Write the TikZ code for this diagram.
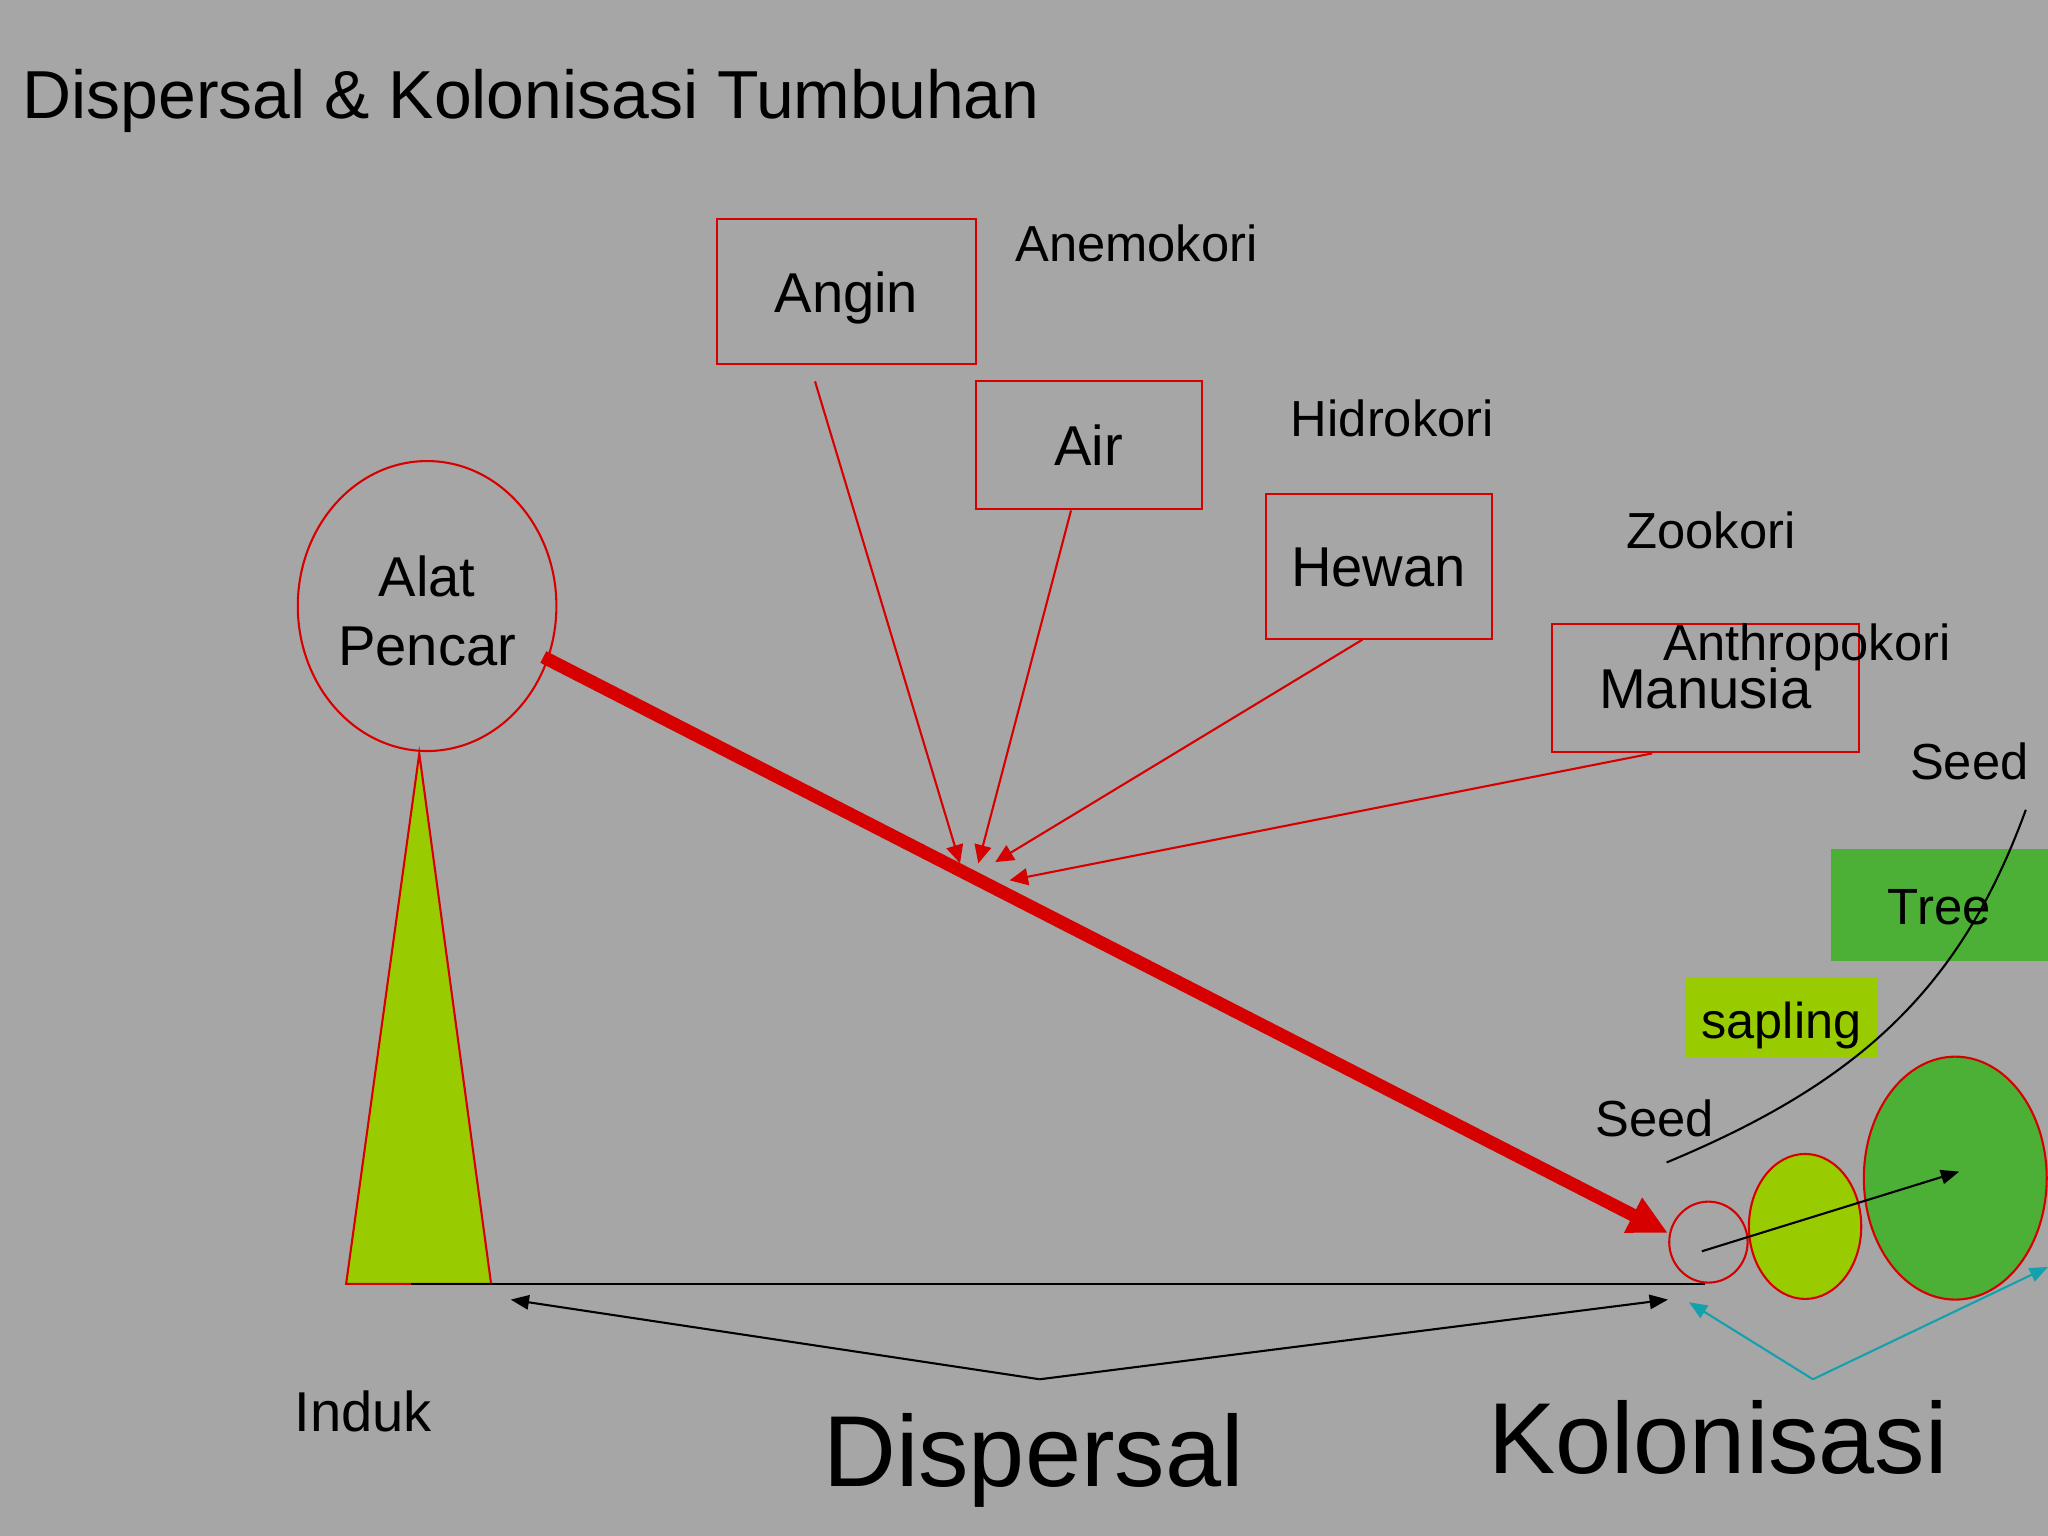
\documentclass[tikz,border=0pt]{standalone}
\usepackage{fontspec}
\setmainfont{Liberation Sans}
\usetikzlibrary{arrows.meta,shapes.geometric}
\definecolor{bg}{RGB}{166,166,166}
\definecolor{myred}{RGB}{214,0,0}
\definecolor{ygreen}{RGB}{153,204,0}
\definecolor{tgreen}{RGB}{76,175,54}
\definecolor{teal2}{RGB}{20,160,172}
\begin{document}
\begin{tikzpicture}[x=0.5pt,y=-0.5pt,
  redbox/.style={draw=myred,line width=0.8pt,rectangle,inner sep=0pt,font=\fontsize{21.5}{26}\selectfont,text height=15.4pt,text depth=0pt},
  side/.style={anchor=base west,inner sep=0pt,font=\fontsize{19.4}{23}\selectfont},
  big/.style={anchor=base west,inner sep=0pt,font=\fontsize{38.6}{44}\selectfont},
  thinred/.style={draw=myred,line width=0.8pt,-{Triangle[length=7pt,width=6.5pt]}},
  blackarr/.style={draw=black,line width=0.8pt,-{Triangle[length=7pt,width=5.5pt]}},
  tealarr/.style={draw=teal2,line width=0.8pt,-{Triangle[length=7pt,width=5.5pt]}},
  stage/.style={ellipse,draw=myred,line width=0.8pt,inner sep=0pt}]
\fill[bg] (0,0) rectangle (1568,1176);
\clip (0,0) rectangle (1568,1176);

% title
\node[anchor=base west,inner sep=0pt,font=\fontsize{26}{30}\selectfont] (title) at (17,91) {Dispersal \& Kolonisasi Tumbuhan};

% agent boxes
\node[redbox,minimum width=99pt,minimum height=55.5pt] (angin) at (648,223.5) {Angin};
\node[redbox,minimum width=86.5pt,minimum height=49pt] (air) at (833.5,341) {Air};
\node[redbox,minimum width=86.5pt,minimum height=55.5pt] (hewan) at (1055.5,433.5) {Hewan};
\node[redbox,minimum width=117.5pt,minimum height=49pt] (manusia) at (1305.5,527) {Manusia};

\node[side] (anemo) at (777,200) {Anemokori};
\node[side] (hidro) at (988,334) {Hidrokori};
\node[side] (zoo) at (1245,420) {Zookori};
\node[side] (anthro) at (1273,506) {Anthropokori};

% parent
\filldraw[fill=ygreen,draw=myred,line width=0.8pt] (321,577) -- (376,983) -- (265,983) -- cycle;
\node[stage,minimum width=99pt,minimum height=111pt] (alat) at (327,464) {};
\node[align=center,inner sep=0pt,font=\fontsize{21.5}{26.5}\selectfont] (alattext) at (327,468) {Alat\\Pencar};

% ground line
\coordinate (g1) at (315,983);
\coordinate (g2) at (1305,983);
\draw[line width=0.8pt] (g1) -- (g2);

% colonisation stages
\node[stage,minimum width=30pt,minimum height=31pt] (seed) at (1308,951) {};
\node[stage,fill=ygreen,minimum width=43pt,minimum height=55.5pt] (sapl) at (1382,939) {};
\node[stage,fill=tgreen,minimum width=70pt,minimum height=93pt] (tree) at (1497,902) {};

% boxes for sapling and tree
\node[fill=ygreen,minimum width=74pt,minimum height=30.5pt,inner sep=0pt] (saplbox) at (1364,779.5) {};
\node[anchor=base,inner sep=0pt,font=\fontsize{19.3}{23}\selectfont] (sapllbl) at (1364,795) {sapling};
\fill[tgreen] (1402,650) rectangle (1600,736);
\node[anchor=base west,inner sep=0pt,font=\fontsize{19.5}{23}\selectfont] (treelbl) at (1445,708) {Tree};

\node[side] (seedlo) at (1221,870) {Seed};
\node[side] (seedhi) at (1462,597) {Seed};

% growth curve
\coordinate (c1) at (1276,890);
\coordinate (c2) at (1551,620);
\draw[line width=0.8pt] (c1) .. controls (1420,830) and (1500,760) .. (c2);

% growth arrow
\coordinate (ga1) at (1303,958);
\coordinate (ga2) at (1500,897);
\draw[blackarr] (ga1) -- (ga2);

% big dispersal arrow
\coordinate (bs) at (416,503);
\coordinate (be) at (1277,944);
\draw[draw=myred,line width=5pt,-{Triangle[length=15pt,width=14pt]}] (bs) -- (be);

% agents to dispersal arrow
\coordinate (e1) at (735,661);
\coordinate (e2) at (749,661);
\coordinate (e3) at (762,660);
\coordinate (e4) at (773,674);
\coordinate (s1) at (624,292);
\draw[thinred] (s1) -- (e1);
\draw[thinred] (air.south -| 820,0) -- (e2);
\draw[thinred] (hewan.south -| 1043,0) -- (e3);
\draw[thinred] (manusia.south -| 1265,0) -- (e4);

% dispersal brace arrows
\coordinate (dv) at (796,1056);
\coordinate (dl) at (391,995);
\coordinate (dr) at (1277,995);
\draw[blackarr] (dv) -- (dl);
\draw[blackarr] (dv) -- (dr);

% colonisation brace arrows
\coordinate (kv) at (1388,1056);
\coordinate (kl) at (1293,997);
\coordinate (kr) at (1568,970);
\draw[tealarr] (kv) -- (kl);
\draw[tealarr] (kv) -- (kr);

% bottom labels
\node[anchor=base west,inner sep=0pt,font=\fontsize{21.5}{26}\selectfont] (induk) at (225,1096) {Induk};
\node[big] (disp) at (630,1138) {Dispersal};
\node[big] (kolo) at (1139,1128) {Kolonisasi};
\end{tikzpicture}
\end{document}
